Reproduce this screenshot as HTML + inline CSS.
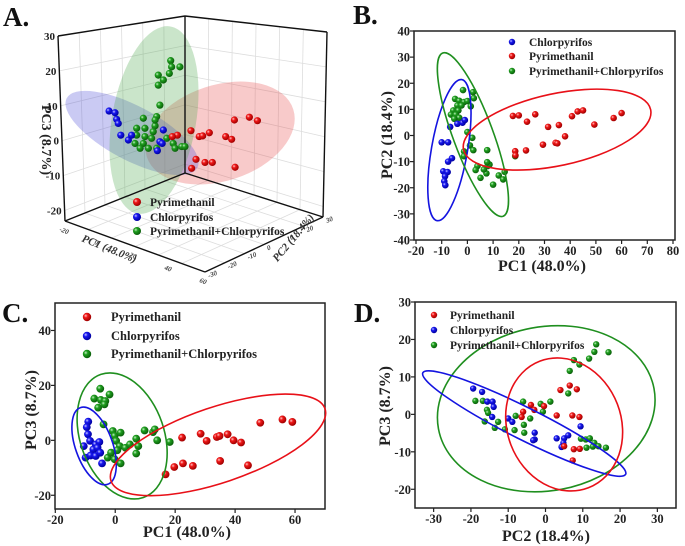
<!DOCTYPE html>
<html><head><meta charset="utf-8"><style>
html,body{margin:0;padding:0;background:#fff;}
svg{display:block;font-family:"Liberation Serif",serif;font-weight:bold;}
</style></head><body>
<svg id="fig" width="685" height="546" viewBox="0 0 685 546" xmlns="http://www.w3.org/2000/svg">
<defs>
<radialGradient id="gr" cx="35%" cy="35%" r="65%"><stop offset="0" stop-color="#ffc8c8"/><stop offset="0.35" stop-color="#f01818"/><stop offset="1" stop-color="#a00000"/></radialGradient>
<radialGradient id="gb" cx="35%" cy="35%" r="65%"><stop offset="0" stop-color="#c8c8ff"/><stop offset="0.35" stop-color="#1818f0"/><stop offset="1" stop-color="#0000a0"/></radialGradient>
<radialGradient id="gg" cx="35%" cy="35%" r="65%"><stop offset="0" stop-color="#c8f0c8"/><stop offset="0.35" stop-color="#20a020"/><stop offset="1" stop-color="#0a600a"/></radialGradient>
</defs>
</svg>
<script>
// ---------- Panel B data (PC1 vs PC2) ----------
const bBlueX=[-6.7,-3.9,-1.9,-1,-10,-7.5,-6,-7.5,-9.4,-7.7,-8.7,-9,-8.6];
const bBlueY=[3.3,4.5,4.9,5.9,-2.6,-2.6,-8.7,-10,-13.7,-14,-15.6,-17.5,-19];
const bRedX=[17.7,20,23.2,26.4,31.4,35.6,40.7,42.9,45,49.4,56.9,60,38,29.4,34.3,35,22.8,18.6,18.7];
const bRedY=[7.5,7.7,5.3,8.1,3.3,4,7.4,9.2,9.6,4.2,6.7,8.6,-0.3,-3.5,-2.8,-3,-5.7,-6,-7.6];
const bGreenX=[-1.7,2.2,-4.8,2.5,-3.2,-1.3,0,-3.9,-2.3,1.3,-5.5,-3.5,-6.4,-4.5,-3.2,-5.1,0,1.9,1,2.3,-1.3,-1.3,7.7,3.9,3.2,5.1,7.4,7.9,8.6,7.7,6.4,10,12.2,13.9,14.5,18.6];
const bGreenY=[17.4,16.6,14,14.3,13.3,12.8,13.2,11.5,11.5,11.2,9.6,9.6,8,8,6.8,6.4,1.3,-0.9,-3.8,-5.6,-6.1,-7.9,-5.6,-11.7,-13.2,-16.2,-14.5,-11.7,-11.1,-10.2,-13,-18.8,-15.3,-16.8,-13.9,-7.9];
const bXTicks=[-20,-10,0,10,20,30,40,50,60,70,80];
const bYTicks=[-40,-30,-20,-10,0,10,20,30,40];
const bEllBlue=[-2.2,21.4,-11.8,-32.6], bEllGreen=[-9.6,31.6,13.9,-30.9], bEllRed=[-1.5,-5.4,71.3,9.9];
// ---------- Panel C data (PC1 vs PC3) ----------
const cRedX=[16.8,19.7,22.6,25.9,22.3,28.5,30.5,33.9,34.8,37.5,39.5,42,35,44.3,48.4,55.8,59.1];
const cRedY=[-12.4,-9.7,-8.4,-9.3,1,2.4,-0.2,1.2,1.6,2.2,0,-0.8,-7.5,-9.1,6.4,7.6,6.7];
const cBlueX=[-9,-9.5,-9.1,-8.4,-6.5,-5.3,-7.3,-5.9,-9.9,-8.2,-6.5,-4.4,-5,-10.5];
const cBlueY=[6.8,4.8,2.2,-0.2,-1.5,-0.6,-3.3,-2.7,-6.3,-5.5,-5.7,-8.4,-4.5,-2.1];
const cGreenX=[-5,-7,-4.8,-3.3,-1.9,-5.7,-3.6,-3.9,-0.8,-0.2,1.8,0.3,1.5,3.4,4.9,7,7.7,7,9.8,12.6,13.2,14,18.2,-2.5,-0.2,1.8,-1.4,0.7];
const cGreenY=[18.8,15.2,14.7,14.3,16.7,11.9,13.1,5.8,3.4,1.6,2.8,-0.2,-2.1,-2.7,-1.5,0.6,-2.1,-4.8,3.6,3,4,0,-0.6,-6.3,-6.9,-8.4,-4.5,-3.6];
const cXTicks=[-20,0,20,40,60];
const cYTicks=[-20,0,20,40];
const cEllGreen=[-4.8,24,9.4,-20.8], cEllBlue=[-11.6,11.9,-2.5,-16], cEllRed=[-1.4,-14.8,70,11.5];
// ---------- Panel D data (PC2 vs PC3) ----------
const dRedX=[4,6.5,8.4,-3.9,-3,-6,-6.4,-0.4,3,7.2,9.1,5,7.6,9.2,7.3];
const dRedY=[6.5,7.7,6.7,2.5,1.2,0.7,-0.7,2.2,-0.3,-0.3,-0.7,-8.5,-9.3,-9.2,-12.3];
const dBlueX=[-19.4,-17,-15.6,-14.2,-13.9,-14.3,-10,-8.9,-2.9,-2.9,-3.3,3,5,6.1,4.3,9.4,4.8];
const dBlueY=[6.9,6,3.4,3.4,2,-0.7,-1.1,-2,-4.9,-6.7,-6.9,-6.4,-6.4,-5.6,-8.7,-3.2,-7.6];
const dGreenX=[-18.8,-16.8,-15.7,-15.4,-16.3,-12.7,-13.6,-10.9,-8.3,-8,-5.8,-5.7,-6,-4.1,-1.3,-0.7,1.3,6.1,6.5,7.6,9.1,11.7,13.1,13.6,16.9,9.5,10.8,11.9,13.1,14.2,16.2,11,12.7];
const dGreenY=[3.6,3.6,1.2,0.4,-1.9,-2,-3.6,-4,-4.2,-0.4,-2.8,-4.9,3.4,-1.1,2.8,0.7,3.4,5.6,11.6,14.5,13.3,14.9,16.7,18.7,16.6,-6.5,-6.7,-6.4,-7.6,-8.5,-8.9,-8.9,-8.6];
const dXTicks=[-30,-20,-10,0,10,20,30];
const dYTicks=[-20,-10,0,10,20,30];
const dEllGreen=[-28.7,-3.9,29.1,6.9], dEllBlue=[-32.9,11.1,21.5,-16], dEllRed=[-1.5,14.2,11.5,-19.6];
// ---------- Panel A data (projected PC1-ish horizontal, PC3 vertical) ----------
const aRedH=[27.8,31.4,32.9,35.8,42.9,45.5,46.7,53.2,56.7,30,28.1,33.9,37.1,47,21.9,19.7];
const aRedV=[2.7,1,1.2,2.1,1,0.2,5.8,6.6,5.6,-5.6,-8.2,-6.5,-6.5,-7.9,1.4,1];
const aGreenH=[19,19.4,23,13.6,18.4,15.8,13.6,14.3,7.1,12.9,12.2,4.2,7.8,11.4,4.2,7.8,10.7,3.5,7.1,9.3,5.7,12.9,17.3,20.1,20.9,23.8,25.2,12.2];
const aGreenV=[23,21.2,21.2,18.8,19.3,17.4,15.9,10.1,6.3,6.8,4.1,3.4,3.4,2.4,1.4,1,0.5,-1,-1,-2.4,-2.4,-2.4,0.5,-1,-2.4,-1.9,-1.9,5.8];
const aBlueH=[-7.8,-5.2,-4.5,-3.8,-2.7,0.6,2,15.8,14.3,13.2,15.3];
const aBlueV=[8.4,7.9,6,4.8,1.4,0,1.4,2.9,-0.5,-3.1,-1];
const aZTicks=[-20,-10,0,10,20,30];

const NS="http://www.w3.org/2000/svg";
const svg=document.getElementById('fig');
function mk(tag,attrs,parent){const e=document.createElementNS(NS,tag);for(const k in attrs)e.setAttribute(k,attrs[k]);(parent||svg).appendChild(e);return e;}
function txt(s,attrs,parent){const e=mk('text',attrs,parent);e.textContent=s;return e;}
const COL={r:'#e81018',b:'#1414e0',g:'#1f8f1f'};
const GRAD={r:'url(#gr)',b:'url(#gb)',g:'url(#gg)'};

function panel(P){
  const sx=v=>P.x0+(v-P.xmin)/(P.xmax-P.xmin)*(P.x1-P.x0);
  const sy=v=>P.y0+(P.ymax-v)/(P.ymax-P.ymin)*(P.y1-P.y0);
  const g=mk('g',{});
  
  
  const box=mk('rect',{x:P.bx0,y:P.by0,width:P.bx1-P.bx0,height:P.by1-P.by0,fill:'none',stroke:'#222','stroke-width':1.5},g);
  
  
  P.xt.forEach(t=>{
    const x=sx(t);
    const tk=mk('line',{x1:x,x2:x,y1:P.by1,y2:P.by1+4,stroke:'#222','stroke-width':1.2},g);
    
    
    const l=txt(String(t),{x:x,y:P.by1+15,'text-anchor':'middle','font-size':12.5,fill:'#222'},g);
    
    
  });
  P.yt.forEach(t=>{
    const y=sy(t);
    const tk=mk('line',{x1:P.bx0-4,x2:P.bx0,y1:y,y2:y,stroke:'#222','stroke-width':1.2},g);
    
    
    const l=txt(String(t),{x:P.bx0-4,y:y+4.5,'text-anchor':'end','font-size':12.5,fill:'#222'},g);
    
    
  });
  const xtl=txt(P.xTitle,{x:P.xtx,y:P.xty,'text-anchor':'middle','font-size':16,fill:'#222'},g);
  
  
  const ytl=txt(P.yTitle,{x:0,y:0,'text-anchor':'middle','font-size':16,fill:'#222',transform:`translate(${P.ytx},${P.yty}) rotate(-90)`},g);
  
  
  const lab=txt(P.letter,{x:P.lx,y:P.ly,'font-size':27,fill:'#111'},g);
  
  
  P.series.forEach(s=>{
    s.xs.forEach((v,i)=>{
      const c=mk('circle',{cx:sx(v),cy:sy(s.ys[i]),r:P.r,fill:GRAD[s.c]},g);
      
      
    });
  });
  P.ells.forEach(E=>{
    const ax=sx(E.e[0]),ay=sy(E.e[1]),bx=sx(E.e[2]),by=sy(E.e[3]);
    const cx=(ax+bx)/2,cy=(ay+by)/2,a=Math.hypot(bx-ax,by-ay)/2,ang=Math.atan2(by-ay,bx-ax)*180/Math.PI;
    const el=mk('ellipse',{cx:cx,cy:cy,rx:a,ry:E.b,fill:'none',stroke:COL[E.c],'stroke-width':1.6,transform:`rotate(${ang} ${cx} ${cy})`},g);
    
    
  });
  P.legend.forEach((L,i)=>{
    const y=P.legY[i];
    const m=mk('circle',{cx:P.legMx,cy:y,r:P.legR,fill:GRAD[L.c]},g);
    
    
    const t=txt(L.t,{x:P.legTx,y:y+4,'font-size':P.legFs,fill:'#222'},g);
    
    
  });
}
const LP={c:'r',key:'pyrimethanil',t:'Pyrimethanil'},LC={c:'b',key:'chlorpyrifos',t:'Chlorpyrifos'},LM={c:'g',key:'mixture',t:'Pyrimethanil+Chlorpyrifos'};

panel({name:'panel-b',letter:'B.',lx:353,ly:24,bx0:414,bx1:675,by0:31,by1:240,
  xmin:-20,xmax:80,x0:416,x1:673,ymin:-40,ymax:40,y0:31,y1:240,xt:bXTicks,yt:bYTicks,
  xTitle:'PC1 (48.0%)',xtx:542,xty:271,yTitle:'PC2 (18.4%)',ytx:392,yty:135,r:3.3,
  series:[{xs:bGreenX,ys:bGreenY,c:'g',key:'mixture'},{xs:bBlueX,ys:bBlueY,c:'b',key:'chlorpyrifos'},{xs:bRedX,ys:bRedY,c:'r',key:'pyrimethanil'}],
  ells:[{e:bEllBlue,b:18,c:'b',key:'chlorpyrifos'},{e:bEllGreen,b:20,c:'g',key:'mixture'},{e:bEllRed,b:36,c:'r',key:'pyrimethanil'}],
  legend:[LC,LP,LM],legY:[42,56,71],legMx:512,legR:3.2,legTx:529,legFs:11.5});

panel({name:'panel-c',letter:'C.',lx:2,ly:322,bx0:55,bx1:325,by0:303,by1:509,
  xmin:-20,xmax:70,x0:55.3,x1:325,ymin:-25,ymax:50,y0:303,y1:509,xt:cXTicks,yt:cYTicks,
  xTitle:'PC1 (48.0%)',xtx:187,xty:537,yTitle:'PC3 (8.7%)',ytx:36,yty:410,r:3.9,
  series:[{xs:cGreenX,ys:cGreenY,c:'g',key:'mixture'},{xs:cBlueX,ys:cBlueY,c:'b',key:'chlorpyrifos'},{xs:cRedX,ys:cRedY,c:'r',key:'pyrimethanil'}],
  ells:[{e:cEllGreen,b:42,c:'g',key:'mixture'},{e:cEllBlue,b:18.6,c:'b',key:'chlorpyrifos'},{e:cEllRed,b:37.7,c:'r',key:'pyrimethanil'}],
  legend:[LP,LC,LM],legY:[317,336,354],legMx:87,legR:4.2,legTx:111,legFs:12.5});

panel({name:'panel-d',letter:'D.',lx:354,ly:322,bx0:415,bx1:676,by0:302,by1:508,
  xmin:-35,xmax:35,x0:415,x1:676,ymin:-25,ymax:30,y0:302,y1:508,xt:dXTicks,yt:dYTicks,
  xTitle:'PC2 (18.4%)',xtx:546,xty:541,yTitle:'PC3 (8.7%)',ytx:390,yty:406,r:3.2,
  series:[{xs:dGreenX,ys:dGreenY,c:'g',key:'mixture'},{xs:dBlueX,ys:dBlueY,c:'b',key:'chlorpyrifos'},{xs:dRedX,ys:dRedY,c:'r',key:'pyrimethanil'}],
  ells:[{e:dEllGreen,b:82,c:'g',key:'mixture'},{e:dEllBlue,b:16,c:'b',key:'chlorpyrifos'},{e:dEllRed,b:57,c:'r',key:'pyrimethanil'}],
  legend:[LP,LC,LM],legY:[315,330,345],legMx:434,legR:3.2,legTx:450,legFs:11.5});

// ---------- Panel A (3D view) ----------
(function(){
  const g=mk('g',{});
  
  
  const lab=txt('A.',{x:3,y:26,'font-size':27,fill:'#111'},g);
  
  
  const TL=[58,36],TC=[185,16],TR=[327,32],BL=[65,221],BC=[185,173],BR=[323,217],FC=[205,272];
  const lerp=(p,q,t)=>[p[0]+(q[0]-p[0])*t,p[1]+(q[1]-p[1])*t];
  const zf=v=>(30-v)/(30-(-23));
  const grid=(p,q)=>{const l=mk('line',{x1:p[0],y1:p[1],x2:q[0],y2:q[1],stroke:'#ddd','stroke-width':0.8},g);};
  aZTicks.forEach(v=>{const t=zf(v);const a=lerp(TL,BL,t),b=lerp(TC,BC,t),c=lerp(TR,BR,t);grid(a,b);grid(b,c);});
  for(let i=1;i<6;i++){const t=i/6;grid(lerp(TL,TC,t),lerp(BL,BC,t));grid(lerp(TC,TR,t),lerp(BC,BR,t));grid(lerp(BL,BC,t),lerp(FC,BR,t));grid(lerp(BC,BR,t),lerp(BL,FC,t));}
  const ell=(cx,cy,rx,ry,ang,fill,key)=>{const e=mk('ellipse',{cx:cx,cy:cy,rx:rx,ry:ry,fill:fill,'fill-opacity':0.3,transform:`rotate(${ang} ${cx} ${cy})`},g);};
  ell(220,133,77,48,-18,'#e85050','pyrimethanil');
  ell(132,133,74,27,28,'#5050d8','chlorpyrifos');
  ell(154,120,42,95,10,'#50a850','mixture');
  const fr=(p,q)=>{const l=mk('line',{x1:p[0],y1:p[1],x2:q[0],y2:q[1],stroke:'#111','stroke-width':1.4},g);};
  fr(TL,TC);fr(TC,TR);fr(TC,BC);fr(TL,BL);fr(TR,BR);fr(BL,BC);fr(BC,BR);fr(BL,FC);fr(FC,BR);
  aZTicks.forEach(v=>{const p=lerp(TL,BL,zf(v));const l=txt(String(v),{x:p[0]-3,y:p[1]+4,'text-anchor':'end','font-size':11,fill:'#222'},g);});
  const sx=h=>127+h*2.3, sy=v=>140-v*3.45;
  [[aGreenH,aGreenV,'g','mixture'],[aBlueH,aBlueV,'b','chlorpyrifos'],[aRedH,aRedV,'r','pyrimethanil']].forEach(S=>{
    S[0].forEach((h,i)=>{const c=mk('circle',{cx:sx(h),cy:sy(S[1][i]),r:3.6,fill:GRAD[S[2]]},g);});
  });
  const pc1=['-20','0','20','40','60'];
  pc1.forEach((s,i)=>{const p=lerp(BL,FC,i/4);const t=txt(s,{x:0,y:0,'font-size':7,fill:'#444','font-style':'italic',transform:`translate(${p[0]-6},${p[1]+10}) rotate(22)`},g);});
  const pc2=['-30','-20','-10','0','10','20','30'];
  pc2.forEach((s,i)=>{const p=lerp(FC,BR,i/6);const t=txt(s,{x:0,y:0,'font-size':7,fill:'#444','font-style':'italic',transform:`translate(${p[0]+4},${p[1]+6}) rotate(-22)`},g);});
  const t1=txt('PC1 (48.0%)',{x:0,y:0,'text-anchor':'middle','font-size':11,'font-style':'italic',fill:'#333',transform:'translate(108,252) rotate(22)'},g);
  
  
  const t2=txt('PC2 (18.4%)',{x:0,y:0,'text-anchor':'middle','font-size':11,'font-style':'italic',fill:'#333',transform:'translate(296,240) rotate(-50)'},g);
  
  
  const t3=txt('PC3 (8.7%)',{x:0,y:0,'text-anchor':'middle','font-size':14,fill:'#222',transform:'translate(42,140) rotate(90)'},g);
  
  
  [[LP,202],[LC,217],[LM,231]].forEach(a=>{
    const m=mk('circle',{cx:137,cy:a[1],r:4,fill:GRAD[a[0].c]},g);
    
    
    const t=txt(a[0].t,{x:150,y:a[1]+4,'font-size':11.5,fill:'#222'},g);
    
    
  });
})();
</script>
</body></html>
